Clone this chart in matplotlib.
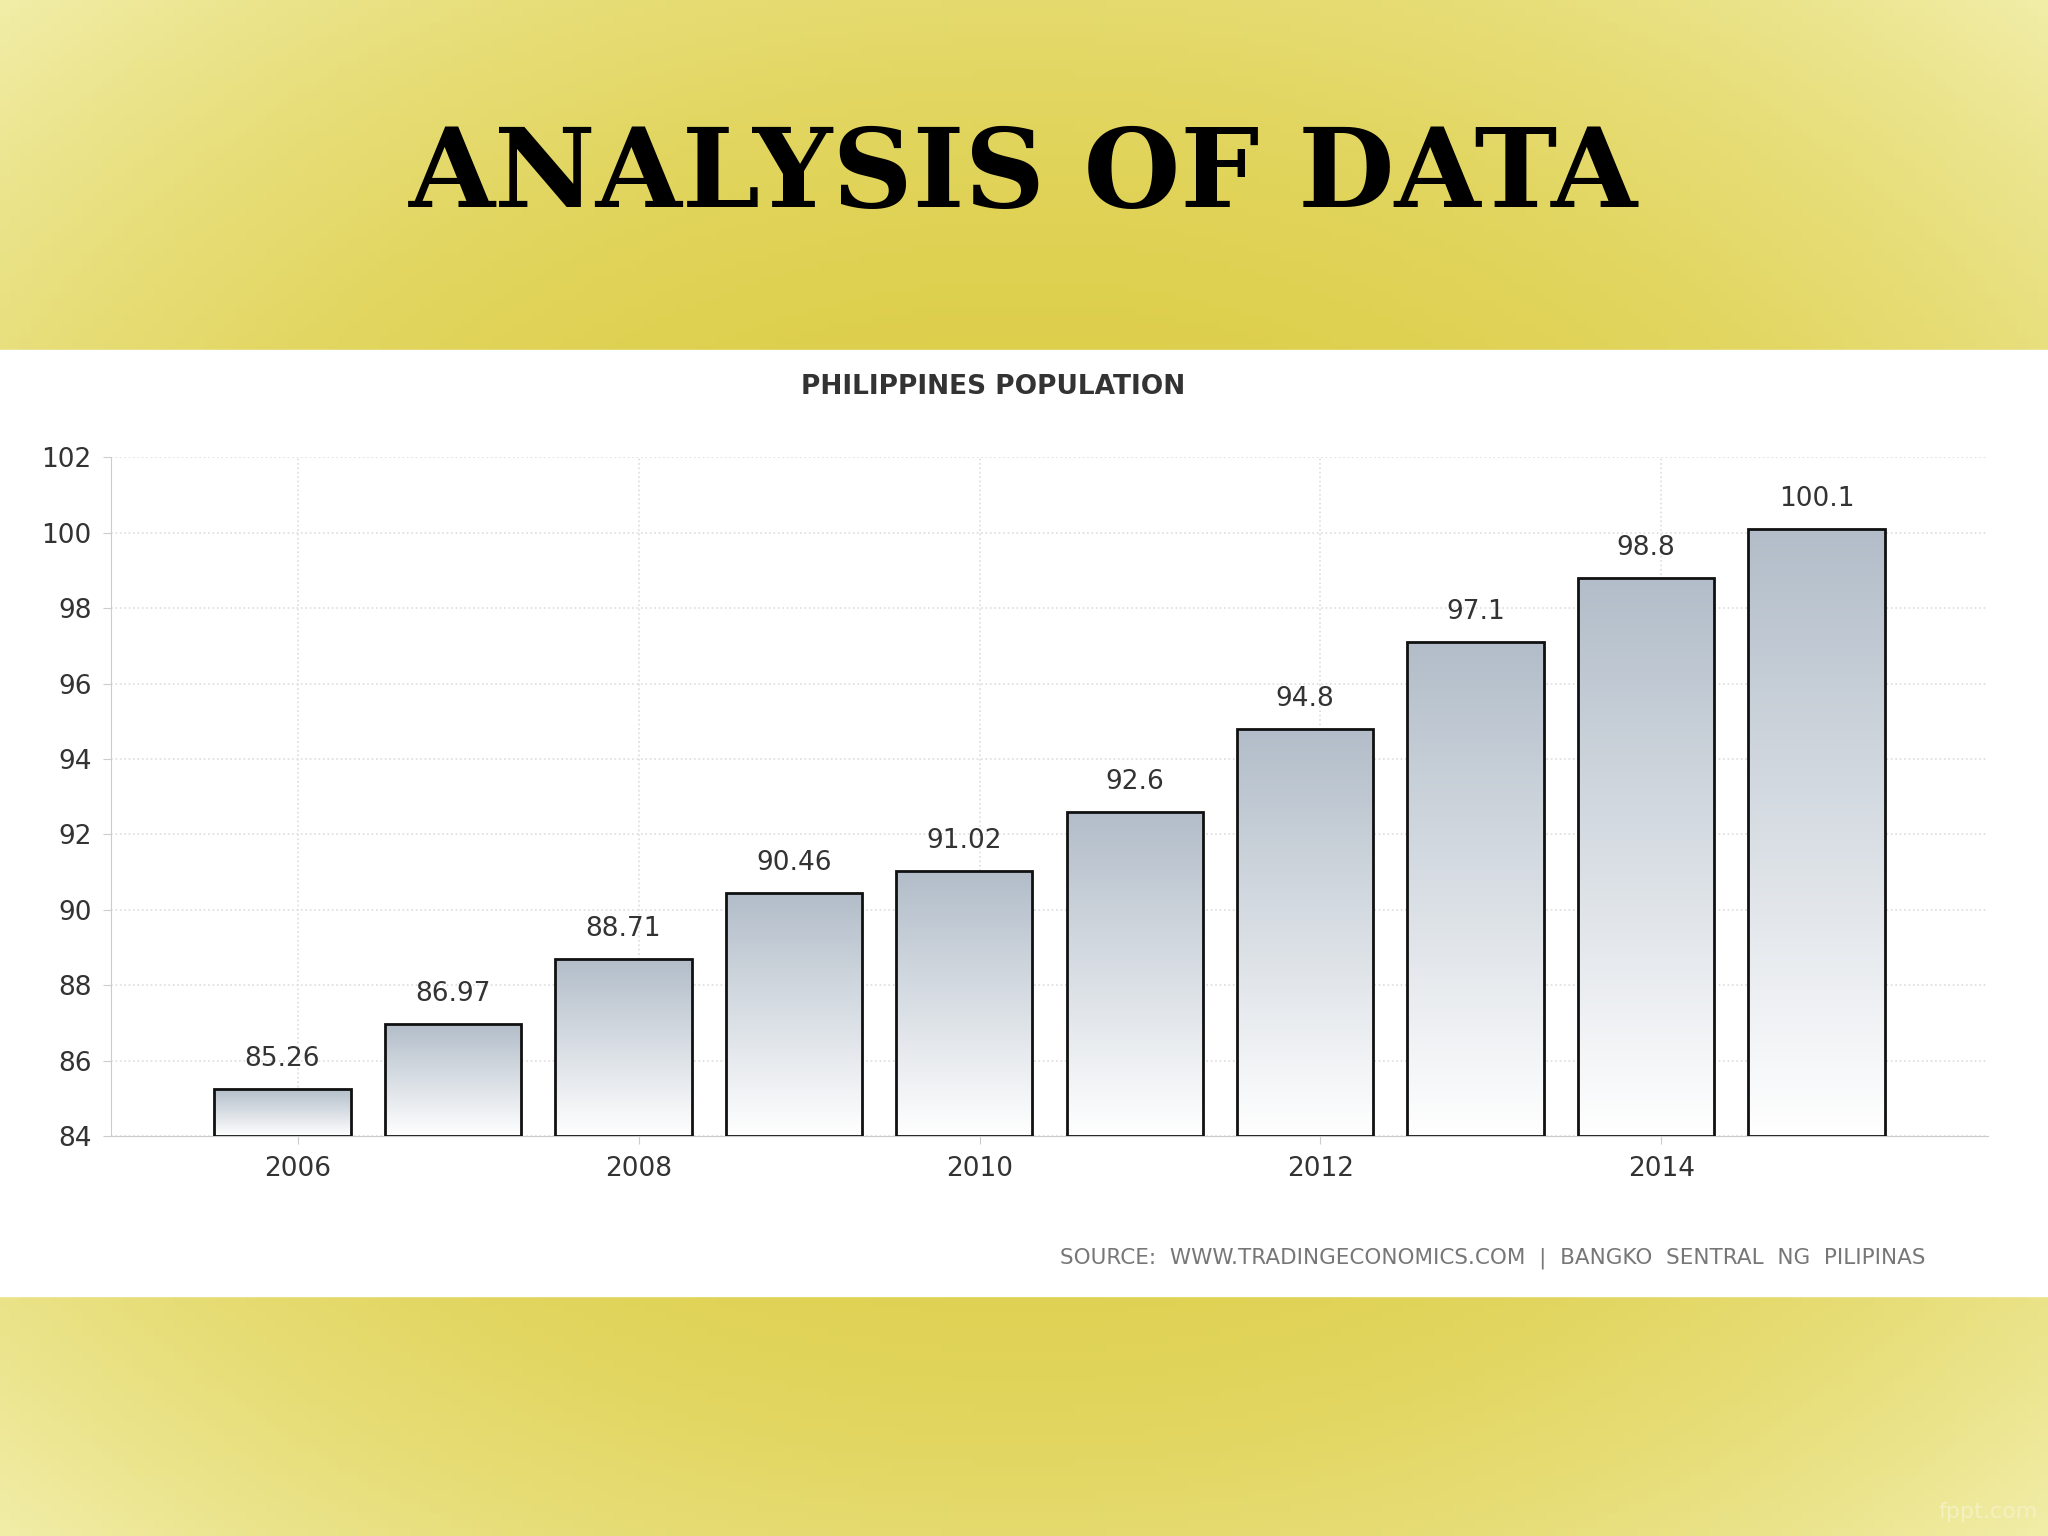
import matplotlib
matplotlib.use("Agg")
import matplotlib.pyplot as plt
import numpy as np
from matplotlib.patches import Rectangle
from matplotlib.colors import LinearSegmentedColormap

years = [2006, 2007, 2008, 2009, 2010, 2011, 2012, 2013, 2014, 2015]
values = [85.26, 86.97, 88.71, 90.46, 91.02, 92.6, 94.8, 97.1, 98.8, 100.1]
labels = ["85.26", "86.97", "88.71", "90.46", "91.02", "92.6", "94.8", "97.1", "98.8", "100.1"]
xticks = [2006, 2008, 2010, 2012, 2014]
yticks = list(range(84, 103, 2))

W, H = 1568, 1176
fig = plt.figure(figsize=(20.48, 15.36), dpi=100)

bg = fig.add_axes([0, 0, 1, 1]); bg.set_axis_off()
yy, xx = np.mgrid[0:1:200j, 0:1:200j]
d = np.sqrt(((xx - 0.5) / 0.75) ** 2 + ((yy - 0.5) / 0.75) ** 2)
base = np.array([0.86, 0.80, 0.26]); edge = np.array([0.96, 0.95, 0.72])
t = np.clip(d, 0, 1)[..., None] ** 2.5
img = base * (1 - t) + edge * t
bg.imshow(img, extent=[0, 1, 0, 1], aspect="auto")
bg.add_patch(Rectangle((0, 1 - 992 / H), 1, (992 - 268) / H, color="white"))
bg.set_xlim(0, 1); bg.set_ylim(0, 1)
bg.text(0.5, 1 - 135 / H, "ANALYSIS OF DATA", ha="center", va="center",
        fontsize=80, fontfamily="DejaVu Serif", fontweight="bold", color="black")
bg.text(0.485, 1 - 296 / H, "PHILIPPINES POPULATION", ha="center", va="center",
        fontsize=19, color="#333333", fontweight="bold")
bg.text(0.94, 1 - 963 / H, "SOURCE:  WWW.TRADINGECONOMICS.COM  |  BANGKO  SENTRAL  NG  PILIPINAS",
        ha="right", va="center", fontsize=15.5, color="#777777")
bg.text(0.995, 1 - 1158 / H, "fppt.com", ha="right", va="center", fontsize=16, color="#f5f0c0")

ax = fig.add_axes([85 / W, 1 - 870 / H, (1522 - 85) / W, (870 - 350) / H])
ax.set_xlim(2004.904, 2015.916)
ax.set_ylim(84, 102)
ax.set_facecolor("none")
grad = np.linspace(0, 1, 256)[:, None]
cmap = LinearSegmentedColormap.from_list("g", ["#ffffff", "#b2bdc9"])
for x, v, lab in zip(years, values, labels):
    x0 = x - 0.09 - 0.4
    im = ax.imshow(grad, extent=[x0, x0 + 0.8, 84, v], origin="lower", cmap=cmap,
                   aspect="auto", zorder=2)
    r = Rectangle((x0, 84), 0.8, v - 84, fill=False, edgecolor="#111111", lw=2, zorder=3)
    ax.add_patch(r)
    im.set_clip_path(r)
    ax.text(x - 0.09, v + 0.45, lab, ha="center", va="bottom", fontsize=19, color="#333333")
ax.set_aspect("auto")
ax.set_xticks(xticks)
ax.set_xticklabels([str(v) for v in xticks], fontsize=19, color="#333333")
ax.set_yticks(yticks)
ax.set_yticklabels([str(v) for v in yticks], fontsize=19, color="#333333")
ax.grid(True, color="#dddddd", linestyle=":", lw=1.2, zorder=0)
for s in ["top", "right"]:
    ax.spines[s].set_visible(False)
ax.spines["left"].set_color("#cccccc"); ax.spines["bottom"].set_color("#cccccc")
ax.tick_params(length=6, color="#cccccc", pad=8)
fig.savefig("out.png", dpi=100)
